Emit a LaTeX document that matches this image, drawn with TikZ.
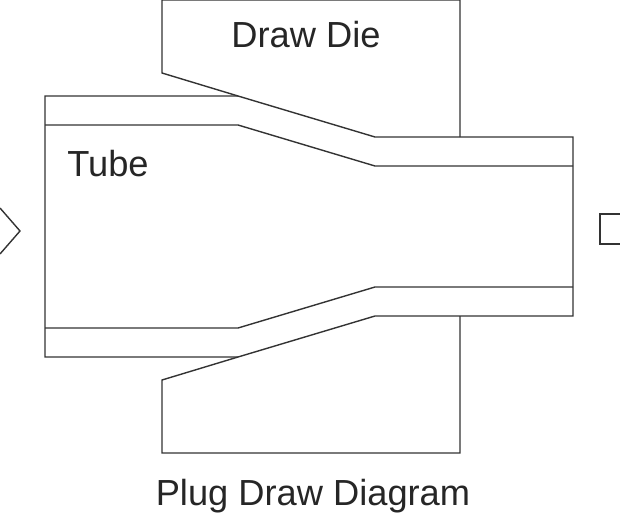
\documentclass[tikz,border=0pt]{standalone}
\usepackage{fontspec}
\setmainfont{Liberation Sans}
\tikzset{ln/.style={draw=black!80,line width=1.05pt,line join=miter},lbl/.style={inner sep=0pt,font=\fontsize{27.2}{30}\selectfont,text=black!85}}
\begin{document}
\begin{tikzpicture}[x=0.75pt,y=-0.75pt]
\useasboundingbox (0,0) rectangle (620,517);
\draw[ln] (238,96) -- (162,73) -- (162,0) -- (460,0) -- (460,137);
\draw[ln] (238,357) -- (162,380) -- (162,453) -- (460,453) -- (460,316);
\draw[ln] (45,96) -- (238,96) -- (375,137) -- (573,137) -- (573,316) -- (375,316) -- (238,357) -- (45,357) -- cycle;
\draw[ln] (45,125) -- (238,125) -- (375,166) -- (573,166);
\draw[ln] (45,328) -- (238,328) -- (375,287) -- (573,287);
\draw[ln] (0,208) -- (20,231) -- (0,254);
\draw[ln] (620,214) -- (600,214) -- (600,244) -- (620,244);
\node[lbl] (die) at (306,35) {Draw Die};
\node[lbl] (tube) at (108,164) {Tube};
\node[lbl] (cap) at (313,496) {Plug Draw Diagram};
\end{tikzpicture}
\end{document}
